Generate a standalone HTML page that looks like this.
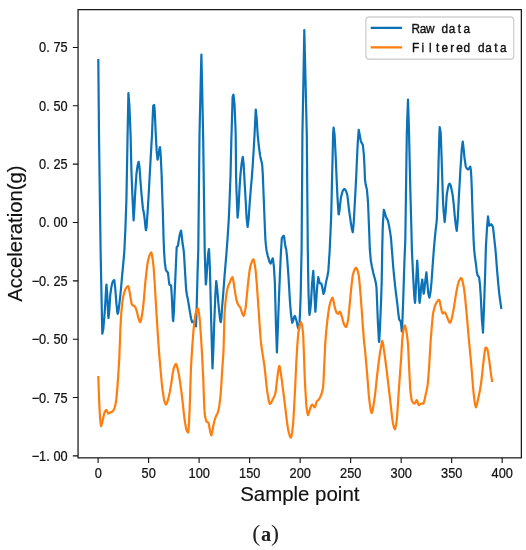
<!DOCTYPE html>
<html lang="en">
<head>
<meta charset="utf-8">
<title>Acceleration - Raw data vs Filtered data</title>
<style>
html,body{margin:0;padding:0;background:#fff;}
body{width:526px;height:550px;overflow:hidden;}
svg{display:block;}
text{fill:#111;}
.hw{font-family:"Liberation Sans",sans-serif;stroke:#111;stroke-width:0.25px;}
.lg{stroke-width:0.4px;}
.lab{font-family:"Liberation Sans",sans-serif;stroke:#111;stroke-width:0.15px;}
.cap{font-family:"Liberation Serif",serif;font-size:19.5px;fill:#222;}
</style>
</head>
<body>
<svg width="526" height="550" viewBox="0 0 526 550">
<rect width="526" height="550" fill="#fff"/>
<path d="M98.3 59.1 L99.0 135.0 L99.1 142.9 L100.1 215.5 L100.6 250.0 L101.1 276.1 L102.1 325.8 L102.3 333.7 L103.2 329.8 L104.2 318.6 L104.8 310.7 L105.2 304.9 L106.2 286.4 L106.5 284.5 L107.2 293.9 L108.2 315.8 L108.5 318.0 L109.2 311.7 L110.2 295.7 L110.4 294.0 L111.2 288.1 L112.2 283.1 L112.5 282.4 L113.2 280.9 L114.2 280.0 L114.3 280.0 L115.3 289.0 L116.3 302.1 L116.3 302.3 L117.3 312.2 L117.7 313.8 L118.3 312.1 L119.3 304.4 L119.8 300.2 L120.3 295.6 L121.3 285.0 L122.3 273.7 L122.4 273.0 L123.3 263.2 L124.4 250.5 L124.4 250.0 L125.4 228.5 L126.4 200.3 L126.4 200.0 L127.4 145.5 L127.5 140.0 L128.4 93.2 L128.4 93.2 L129.4 105.8 L130.4 130.4 L130.6 135.0 L131.3 166.4 L131.4 170.5 L132.4 195.9 L132.8 204.0 L133.5 219.1 L133.6 220.4 L134.5 206.5 L134.9 197.8 L135.5 188.0 L136.5 173.6 L136.6 172.7 L137.5 166.1 L138.5 161.9 L138.7 161.8 L139.5 167.5 L140.5 181.7 L140.8 185.0 L141.5 193.9 L142.6 205.3 L142.9 208.2 L143.6 211.7 L144.1 214.5 L144.6 218.6 L145.6 228.7 L146.0 230.2 L146.6 226.9 L147.6 212.0 L148.1 204.0 L148.6 195.7 L149.6 177.0 L150.2 166.4 L150.6 159.1 L151.6 141.9 L152.0 135.0 L152.7 117.3 L153.2 106.0 L153.7 105.3 L154.2 105.0 L154.7 110.3 L155.7 132.8 L155.8 135.0 L156.7 151.5 L157.5 159.7 L157.7 159.5 L158.7 153.7 L159.7 147.5 L160.0 147.1 L160.7 155.2 L161.7 176.8 L161.7 177.9 L162.7 208.2 L162.8 209.9 L163.6 239.6 L163.8 244.0 L164.0 250.0 L164.8 262.3 L164.8 262.6 L165.8 269.5 L165.9 269.9 L166.8 271.3 L167.8 272.5 L168.0 273.0 L168.8 280.2 L169.4 284.5 L169.8 284.9 L170.8 285.3 L171.1 285.6 L171.8 296.2 L172.8 318.3 L173.2 321.1 L173.9 311.7 L174.7 291.8 L174.9 287.9 L175.9 265.1 L176.0 262.6 L176.7 247.3 L176.9 246.9 L177.9 245.7 L177.9 245.7 L178.9 239.6 L179.5 236.0 L179.9 234.0 L180.9 230.7 L181.1 230.6 L181.9 237.0 L182.6 243.8 L183.0 246.0 L183.6 250.0 L184.0 254.0 L185.0 270.9 L186.0 287.6 L186.4 291.8 L187.0 295.3 L188.0 300.0 L188.0 300.1 L189.0 306.3 L190.0 312.4 L190.1 312.8 L191.0 318.2 L192.1 322.1 L192.2 322.2 L193.1 321.8 L194.1 321.1 L194.3 321.1 L195.1 323.7 L195.9 326.4 L196.1 323.1 L196.8 302.3 L197.1 290.5 L197.6 270.9 L198.1 256.2 L198.3 250.0 L199.1 171.4 L199.5 135.0 L200.1 108.3 L201.1 65.5 L201.4 54.5 L202.2 90.0 L203.1 135.0 L203.2 139.3 L204.2 211.9 L204.7 250.0 L205.2 266.9 L205.8 284.5 L206.2 282.0 L207.2 266.7 L208.2 253.5 L208.9 249.0 L209.2 252.4 L210.0 270.9 L210.2 280.5 L211.0 312.8 L211.2 321.9 L212.1 354.6 L212.2 360.1 L212.5 368.4 L213.3 351.2 L214.2 323.2 L214.3 321.6 L215.3 295.7 L216.2 281.0 L216.3 281.1 L217.3 290.0 L218.3 302.3 L218.3 302.4 L219.3 312.7 L220.3 321.0 L220.8 322.2 L221.3 318.9 L222.3 304.3 L222.5 302.3 L223.4 291.3 L224.4 277.9 L224.6 275.1 L225.4 265.8 L226.4 253.9 L226.7 250.0 L227.4 240.5 L228.4 225.4 L228.8 218.7 L229.4 204.7 L230.4 178.5 L230.5 176.8 L231.4 137.1 L231.5 135.0 L232.5 101.0 L232.6 96.8 L233.4 94.6 L233.5 94.8 L234.5 104.3 L235.5 128.2 L235.7 135.0 L236.1 176.8 L236.5 191.1 L237.5 216.3 L237.6 217.6 L238.5 208.7 L239.5 188.9 L240.3 176.8 L240.5 174.3 L241.6 163.7 L242.6 157.3 L242.8 157.0 L243.6 163.6 L244.6 182.1 L244.9 187.3 L245.6 199.3 L246.6 218.1 L247.6 227.0 L247.6 227.0 L248.6 219.4 L249.6 204.3 L250.1 197.8 L250.6 191.3 L251.7 179.0 L252.7 165.7 L252.9 162.2 L253.7 149.8 L254.5 135.0 L254.7 131.3 L255.7 110.2 L255.8 109.5 L256.7 118.9 L257.7 135.0 L257.7 135.1 L258.7 144.8 L259.7 152.8 L260.2 155.9 L260.7 158.6 L261.8 162.7 L262.3 166.4 L262.8 174.6 L263.7 197.8 L263.8 199.5 L264.8 226.0 L265.4 239.6 L265.8 244.2 L266.5 250.0 L266.8 251.7 L267.8 256.1 L268.5 258.4 L268.8 259.4 L269.8 262.6 L270.6 263.6 L270.8 263.4 L271.9 260.3 L272.7 258.4 L272.9 258.6 L273.9 266.7 L274.8 281.4 L274.9 284.3 L275.9 323.2 L276.9 352.5 L276.9 352.4 L277.9 326.9 L278.4 312.8 L278.9 299.4 L279.9 274.7 L280.1 270.9 L280.9 252.9 L281.1 250.0 L281.8 238.5 L282.0 238.1 L283.0 236.2 L283.8 235.8 L284.0 236.1 L285.0 243.8 L285.3 245.9 L286.0 248.6 L286.3 250.0 L287.0 256.3 L288.0 269.8 L288.4 275.1 L289.0 285.1 L290.0 302.5 L290.5 308.6 L291.1 314.8 L292.1 322.6 L292.2 322.8 L293.1 320.9 L294.1 317.0 L294.7 316.0 L295.1 316.3 L296.1 319.3 L296.8 322.0 L297.1 323.5 L297.8 327.0 L298.1 327.8 L299.1 329.3 L299.2 329.3 L300.1 311.3 L300.7 295.0 L301.1 272.5 L301.6 250.0 L302.2 169.5 L302.4 135.0 L303.2 92.5 L304.2 36.7 L304.3 30.1 L305.2 67.4 L306.2 109.8 L306.8 135.0 L307.2 182.1 L307.8 250.0 L308.2 275.1 L308.5 291.8 L309.2 311.3 L309.5 314.9 L310.2 310.8 L311.0 302.3 L311.2 298.6 L312.2 281.4 L312.3 280.7 L313.3 270.9 L313.3 270.9 L314.3 291.4 L314.3 291.8 L315.3 311.1 L315.4 311.7 L316.3 300.0 L316.8 291.8 L317.3 285.3 L318.3 277.2 L318.3 277.2 L319.3 281.3 L320.0 283.5 L320.3 283.5 L321.4 283.5 L321.4 283.5 L322.4 288.0 L323.4 293.8 L323.5 293.9 L324.4 291.7 L325.4 285.9 L326.2 281.4 L326.4 280.4 L327.4 276.2 L328.3 270.9 L328.4 269.8 L329.4 254.8 L329.6 252.0 L330.4 234.8 L331.1 218.7 L331.5 203.6 L332.1 176.8 L332.5 161.3 L333.1 135.0 L333.5 128.3 L333.6 127.7 L334.5 133.8 L334.6 135.0 L335.5 152.6 L336.1 166.4 L336.5 175.9 L337.3 193.6 L337.5 197.6 L338.5 213.4 L338.8 214.5 L339.5 210.6 L340.6 200.2 L340.9 197.8 L341.6 194.8 L342.6 191.3 L343.0 190.4 L343.6 189.6 L344.4 189.0 L344.6 189.0 L345.6 190.2 L346.6 192.7 L347.2 194.6 L347.6 197.1 L348.6 206.1 L348.6 206.3 L349.6 214.1 L350.3 218.7 L350.6 221.1 L351.7 228.2 L352.7 232.2 L352.8 232.3 L353.7 223.1 L354.5 208.2 L354.7 205.0 L355.7 186.6 L356.2 176.8 L356.7 165.3 L357.6 145.5 L357.7 143.3 L358.7 129.8 L358.7 129.8 L359.7 134.7 L360.8 141.1 L360.8 141.3 L361.8 143.1 L362.8 145.1 L362.9 145.5 L363.8 154.1 L364.5 166.4 L364.8 174.7 L365.0 180.0 L365.8 185.1 L366.8 189.1 L367.0 190.4 L367.8 199.6 L368.1 204.0 L368.8 222.0 L369.1 229.1 L369.8 248.7 L369.9 250.0 L370.8 260.5 L370.9 260.9 L371.9 266.7 L372.9 271.1 L373.3 273.0 L373.9 275.4 L374.9 278.7 L375.9 283.3 L376.5 287.7 L376.9 297.1 L377.5 312.8 L377.9 322.2 L378.9 340.6 L379.2 342.0 L379.9 329.4 L380.6 312.8 L381.0 303.3 L381.7 281.4 L382.0 264.4 L382.2 250.0 L382.7 229.1 L383.0 222.2 L383.8 209.9 L384.0 210.0 L385.0 213.2 L385.9 216.6 L386.0 216.9 L387.0 218.7 L388.0 220.8 L388.0 220.9 L389.0 225.7 L389.6 229.1 L390.1 231.8 L391.1 239.2 L391.1 239.6 L391.9 250.0 L392.1 252.2 L393.1 265.3 L393.2 266.7 L394.1 276.2 L395.1 285.9 L395.3 287.7 L396.1 294.4 L397.1 302.2 L397.4 304.4 L398.1 311.5 L399.1 319.3 L399.2 319.5 L400.1 320.7 L400.7 321.6 L401.2 325.7 L401.8 331.5 L402.2 326.5 L403.2 300.5 L403.2 300.0 L404.2 268.5 L404.4 262.0 L405.2 242.9 L405.3 240.0 L406.2 176.3 L406.8 135.0 L407.2 120.6 L408.0 99.5 L408.2 105.4 L409.1 135.0 L409.2 141.1 L410.2 184.8 L410.6 200.0 L411.3 225.5 L411.9 250.0 L412.3 258.9 L413.3 279.0 L413.5 282.8 L414.3 296.5 L415.0 302.9 L415.3 300.1 L416.3 278.4 L416.3 278.2 L417.2 260.5 L417.3 261.0 L418.3 279.5 L418.5 282.8 L419.3 300.5 L419.6 302.9 L420.4 296.6 L421.1 287.2 L421.4 284.9 L422.2 279.5 L422.4 280.0 L423.4 292.0 L423.7 293.7 L424.4 289.7 L425.1 282.8 L425.4 280.0 L426.4 272.3 L426.4 272.3 L427.4 283.3 L428.1 291.5 L428.4 293.8 L429.4 297.7 L429.4 297.7 L430.5 292.1 L431.0 287.2 L431.5 282.0 L432.5 267.8 L432.5 267.5 L433.5 254.0 L433.8 250.0 L434.5 241.9 L435.3 233.4 L435.5 231.4 L436.5 222.8 L436.9 218.1 L437.5 200.3 L438.2 178.7 L438.5 165.2 L439.3 135.0 L439.6 129.0 L439.7 127.1 L440.6 132.3 L440.8 135.0 L441.6 157.4 L441.9 167.8 L442.6 188.8 L443.0 200.6 L443.6 211.1 L444.6 221.9 L444.7 222.0 L445.6 213.0 L446.6 196.6 L446.9 194.0 L447.6 189.6 L448.6 185.0 L449.5 183.5 L449.6 183.5 L450.7 185.6 L451.7 190.0 L452.7 195.5 L452.8 196.2 L453.7 204.1 L454.7 215.4 L455.0 218.1 L455.7 224.6 L456.7 230.8 L456.8 230.8 L457.7 220.0 L458.7 200.6 L458.7 199.9 L459.8 180.8 L460.5 167.8 L460.8 163.9 L461.8 148.4 L462.7 141.6 L462.8 141.7 L463.8 150.5 L464.4 156.9 L464.8 160.1 L465.8 166.5 L465.9 166.7 L466.8 168.5 L467.8 169.4 L468.1 169.5 L468.8 168.8 L469.9 167.0 L470.3 166.7 L470.9 170.6 L471.4 178.7 L471.9 191.9 L472.5 211.5 L472.9 221.8 L473.6 240.0 L473.9 245.4 L474.2 250.0 L474.9 256.6 L475.8 263.1 L475.9 264.0 L476.9 272.3 L477.5 275.1 L477.9 275.8 L478.9 277.0 L479.1 277.3 L480.0 284.7 L480.6 293.7 L481.0 300.6 L481.9 320.0 L482.0 321.2 L483.0 332.6 L483.0 332.6 L484.0 307.5 L484.1 304.7 L485.0 277.8 L485.2 271.9 L485.8 250.0 L486.0 245.1 L486.7 233.4 L487.0 227.8 L488.0 216.3 L488.0 216.3 L489.1 224.8 L489.3 225.7 L490.1 225.1 L491.1 224.2 L491.1 224.2 L492.1 225.2 L492.8 226.8 L493.1 228.1 L494.1 237.2 L494.4 240.0 L495.1 246.2 L495.5 250.0 L496.1 257.3 L497.1 270.6 L497.6 276.2 L498.1 282.1 L499.1 292.4 L499.8 298.1 L500.2 300.9 L501.2 307.7 L501.4 309.0" fill="none" stroke="#0b72b8" stroke-width="2.2" stroke-linejoin="round" stroke-linecap="butt"/>
<path d="M98.3 376.0 L99.1 399.7 L99.5 407.8 L100.1 418.3 L101.0 426.2 L101.1 426.1 L102.1 422.7 L103.1 418.2 L103.2 418.0 L104.2 413.8 L104.8 411.9 L105.2 411.1 L106.2 409.9 L106.2 409.9 L107.2 411.6 L108.2 413.6 L108.3 413.6 L109.2 413.2 L110.2 412.5 L110.4 412.4 L111.2 412.1 L112.2 411.7 L112.5 411.5 L113.2 410.7 L114.3 408.7 L114.6 407.8 L115.3 405.4 L116.3 399.5 L116.3 399.4 L117.3 388.3 L117.7 382.7 L118.3 374.5 L119.2 360.0 L119.3 357.8 L120.3 331.2 L120.9 319.0 L121.3 313.2 L122.3 302.6 L123.0 298.1 L123.3 296.3 L124.4 292.1 L125.4 289.3 L125.7 288.7 L126.4 287.6 L127.4 286.4 L128.2 286.0 L128.4 286.2 L129.4 290.7 L130.3 296.0 L130.4 296.7 L131.4 302.9 L132.0 304.8 L132.4 305.2 L133.5 305.6 L134.5 306.1 L134.5 306.1 L135.5 307.7 L136.5 310.4 L136.6 310.7 L137.5 314.2 L138.5 318.4 L138.7 319.0 L139.5 321.2 L140.3 322.2 L140.5 322.0 L141.5 318.1 L142.6 311.1 L142.9 308.6 L143.6 302.5 L144.6 290.5 L145.4 281.4 L145.6 279.8 L146.6 270.6 L147.6 263.0 L148.1 260.5 L148.6 258.5 L149.6 255.1 L150.6 252.9 L151.2 252.5 L151.6 253.3 L152.7 259.3 L153.3 264.6 L153.7 268.2 L154.7 283.3 L155.7 300.4 L155.8 302.3 L156.7 316.5 L157.7 332.7 L158.5 344.5 L158.7 347.3 L159.7 360.0 L160.6 370.1 L160.7 371.5 L161.7 382.4 L162.7 391.0 L162.8 391.4 L163.8 398.4 L164.2 400.4 L164.8 402.4 L165.8 404.6 L165.9 404.6 L166.8 403.5 L167.8 400.4 L168.4 398.3 L168.8 396.8 L169.8 391.9 L170.8 386.2 L171.1 384.7 L171.8 379.9 L172.8 372.7 L173.8 368.0 L173.9 367.8 L174.9 365.1 L175.9 363.8 L175.9 363.8 L176.9 365.7 L177.9 370.0 L178.4 372.2 L178.9 374.7 L179.9 380.9 L180.9 388.2 L181.6 393.1 L181.9 395.9 L183.0 405.3 L184.0 414.8 L184.7 420.3 L185.0 422.1 L186.0 428.0 L186.8 430.8 L187.0 431.2 L188.0 432.4 L188.3 432.5 L189.0 423.6 L189.7 407.8 L190.0 398.8 L191.0 366.8 L191.1 365.5 L192.1 348.6 L193.1 335.3 L193.2 333.7 L194.1 324.2 L195.1 315.9 L195.3 314.9 L196.1 311.9 L197.1 309.1 L198.0 308.2 L198.1 308.3 L199.1 313.6 L200.1 323.2 L200.1 323.5 L201.1 338.8 L201.6 347.0 L202.2 357.1 L203.1 376.4 L203.2 377.7 L204.2 405.1 L204.7 414.0 L205.2 417.1 L206.2 421.1 L206.4 421.4 L207.2 422.0 L208.2 422.5 L208.5 422.8 L209.2 426.1 L210.0 430.8 L210.2 431.8 L211.2 435.3 L211.4 435.4 L212.2 432.0 L213.1 426.6 L213.3 425.9 L214.3 421.5 L215.2 418.2 L215.3 418.0 L216.3 415.6 L217.3 413.7 L218.3 410.9 L218.3 410.9 L219.3 405.7 L220.3 397.9 L220.4 397.3 L221.3 385.1 L222.3 368.3 L222.5 365.9 L223.4 352.8 L223.6 348.0 L224.4 318.3 L224.6 312.8 L225.4 302.8 L226.4 294.2 L227.4 288.8 L227.7 287.7 L228.4 285.5 L229.4 283.2 L229.8 282.4 L230.4 280.8 L231.4 278.3 L232.4 277.2 L232.5 277.2 L233.5 281.5 L234.4 287.7 L234.5 288.2 L235.5 294.7 L236.5 300.2 L237.5 303.3 L238.2 304.8 L238.5 305.3 L239.5 306.4 L240.3 307.5 L240.5 308.0 L241.6 311.5 L242.0 312.8 L242.6 314.2 L243.6 315.9 L243.6 315.9 L244.6 313.4 L245.5 308.6 L245.6 308.1 L246.6 298.4 L247.6 287.7 L247.6 287.6 L248.6 278.4 L249.6 270.3 L250.3 266.7 L250.6 265.4 L251.7 262.1 L252.7 259.9 L253.3 259.4 L253.7 259.8 L254.7 264.2 L255.4 268.8 L255.7 271.0 L256.7 282.7 L257.7 297.0 L258.1 302.3 L258.7 310.9 L259.7 326.1 L260.7 339.7 L261.2 344.5 L261.8 349.0 L262.8 355.5 L263.8 361.5 L264.4 365.9 L264.8 369.0 L265.8 378.6 L266.8 388.1 L267.5 393.1 L267.8 394.9 L268.8 400.7 L269.8 403.9 L270.0 404.0 L270.8 403.3 L271.9 401.3 L272.7 399.4 L272.9 399.1 L273.9 397.2 L274.9 394.8 L275.4 393.1 L275.9 390.2 L276.9 381.1 L277.5 376.4 L277.9 373.5 L278.9 367.0 L279.4 366.0 L279.9 367.1 L280.9 373.6 L282.0 381.7 L282.1 382.7 L283.0 389.1 L284.0 397.2 L285.0 405.4 L285.3 407.8 L286.0 413.5 L287.0 422.0 L288.0 429.0 L288.4 430.8 L289.0 433.3 L290.0 436.6 L290.9 437.7 L291.1 437.6 L292.1 432.9 L293.0 425.0 L293.1 424.3 L294.1 408.3 L295.0 390.0 L295.1 388.3 L296.1 366.7 L297.0 350.0 L297.1 348.4 L298.1 335.2 L299.0 328.0 L299.1 327.4 L300.1 323.7 L301.1 322.2 L301.1 322.2 L302.2 325.9 L303.2 334.7 L303.2 335.0 L304.2 361.4 L304.7 376.4 L305.2 386.7 L306.2 403.7 L306.4 405.7 L307.2 412.2 L308.0 415.1 L308.2 415.0 L309.2 411.9 L310.1 408.8 L310.2 408.5 L311.2 405.8 L312.2 404.6 L312.3 404.6 L313.3 405.7 L314.3 407.1 L314.7 407.3 L315.3 406.4 L316.3 402.8 L316.8 401.5 L317.3 400.9 L318.3 400.0 L318.9 399.4 L319.3 398.8 L320.3 396.8 L321.0 395.2 L321.4 394.3 L322.4 390.9 L323.1 386.8 L323.4 383.6 L324.2 365.9 L324.4 362.0 L325.2 344.5 L325.4 341.6 L326.4 329.3 L327.3 321.1 L327.4 320.1 L328.4 312.1 L329.4 305.9 L329.8 304.4 L330.4 302.1 L331.5 299.0 L332.5 297.7 L332.5 297.7 L333.5 300.8 L334.5 306.1 L334.6 306.5 L335.5 309.8 L336.5 312.5 L336.7 312.8 L337.5 313.5 L338.2 313.8 L338.5 313.6 L339.5 311.8 L339.8 311.7 L340.6 312.7 L341.6 315.8 L341.9 316.9 L342.6 319.3 L343.6 323.2 L344.0 324.3 L344.6 325.4 L345.6 326.8 L346.1 327.0 L346.6 326.3 L347.6 322.2 L348.2 319.0 L348.6 315.9 L349.6 305.2 L350.3 298.1 L350.6 294.6 L351.7 283.6 L352.7 275.7 L352.8 275.1 L353.7 272.0 L354.7 269.3 L355.7 267.9 L356.0 267.8 L356.7 268.4 L357.7 271.1 L358.7 275.1 L358.7 275.2 L359.7 284.5 L360.8 297.5 L360.8 298.1 L361.8 311.0 L362.8 325.6 L363.8 338.7 L363.9 340.0 L364.8 348.2 L365.2 352.0 L365.8 358.4 L366.8 370.0 L367.0 372.2 L367.8 382.5 L368.8 395.2 L369.5 401.5 L369.8 404.1 L370.9 410.9 L371.6 413.0 L371.9 412.8 L372.9 409.1 L373.9 402.8 L374.4 399.4 L374.9 395.9 L375.9 387.0 L376.9 377.2 L377.5 372.2 L377.9 368.7 L378.9 360.7 L379.9 353.3 L380.6 349.2 L381.0 347.0 L382.0 341.5 L382.3 341.0 L383.0 343.5 L383.8 349.2 L384.0 350.4 L385.0 357.4 L386.0 365.1 L386.9 372.2 L387.0 373.2 L388.0 381.6 L389.0 390.4 L390.1 399.0 L390.1 399.4 L391.1 408.1 L392.1 417.3 L393.1 424.0 L393.2 424.5 L394.1 427.9 L394.9 429.3 L395.1 429.1 L396.1 424.5 L396.7 420.3 L397.1 416.2 L398.1 401.3 L398.8 391.0 L399.1 386.3 L400.1 372.6 L400.9 361.7 L401.2 357.3 L402.2 340.3 L402.2 340.0 L403.2 331.7 L404.2 326.1 L404.7 325.3 L405.2 326.0 L406.2 330.3 L406.8 333.7 L407.2 336.6 L408.0 344.5 L408.2 348.1 L409.1 366.9 L409.2 369.8 L410.2 388.7 L410.2 389.2 L411.3 398.0 L411.9 400.7 L412.3 401.4 L413.3 402.8 L414.3 403.6 L414.6 403.6 L415.3 402.7 L416.3 400.4 L416.7 400.1 L417.3 401.1 L418.3 404.3 L418.9 405.1 L419.3 404.9 L420.4 404.0 L421.1 403.6 L421.4 403.6 L422.4 403.6 L423.3 403.6 L423.4 403.6 L424.4 400.7 L425.4 395.7 L425.5 395.3 L426.4 391.5 L427.4 386.2 L427.7 384.4 L428.4 376.7 L429.2 366.0 L429.4 362.0 L430.5 343.6 L430.5 343.0 L431.5 330.3 L431.5 330.0 L432.5 318.5 L433.1 313.4 L433.5 311.4 L434.5 307.4 L435.5 304.6 L436.0 303.6 L436.5 302.6 L437.5 301.0 L438.5 299.9 L439.0 299.8 L439.6 300.9 L440.6 305.8 L440.8 306.8 L441.6 310.5 L442.5 313.4 L442.6 313.4 L443.6 312.9 L444.6 312.3 L444.7 312.3 L445.6 313.4 L446.6 315.9 L447.4 317.8 L447.6 318.3 L448.6 320.8 L449.6 322.6 L450.0 322.8 L450.7 322.0 L451.7 318.5 L452.7 313.9 L452.8 313.4 L453.7 308.8 L454.7 302.3 L455.7 295.9 L456.1 293.7 L456.7 290.4 L457.7 285.2 L458.7 281.7 L458.7 281.6 L459.8 279.4 L460.8 278.1 L461.1 278.0 L461.8 278.8 L462.8 282.3 L463.8 287.2 L463.8 287.2 L464.8 294.5 L465.8 304.9 L466.6 313.4 L466.8 315.7 L467.8 327.1 L468.8 338.9 L469.2 343.0 L469.9 350.1 L470.9 360.9 L471.4 366.9 L471.9 372.6 L472.9 385.6 L473.6 393.1 L473.9 395.6 L474.9 403.9 L475.8 407.3 L475.9 407.3 L476.9 404.6 L477.9 400.0 L478.0 399.7 L478.9 395.4 L480.0 390.0 L481.0 383.8 L481.2 382.2 L482.0 375.7 L483.0 366.0 L483.4 362.5 L484.0 357.3 L485.0 349.3 L485.6 347.6 L486.0 347.7 L487.0 348.2 L487.1 348.3 L488.0 352.2 L488.9 358.1 L489.1 359.1 L490.1 367.0 L490.6 371.2 L491.1 374.6 L492.2 382.2" fill="none" stroke="#ff7d0c" stroke-width="2.2" stroke-linejoin="round" stroke-linecap="butt"/>
<rect x="78.05" y="9.65" width="443.3" height="448.2" fill="none" stroke="#0f0f0f" stroke-width="1.2"/>
<path d="M98.10 457.9 v5.2 M148.61 457.9 v5.2 M199.12 457.9 v5.2 M249.63 457.9 v5.2 M300.14 457.9 v5.2 M350.65 457.9 v5.2 M401.16 457.9 v5.2 M451.67 457.9 v5.2 M502.18 457.9 v5.2 M78.05 455.90 h-5.2 M78.05 397.55 h-5.2 M78.05 339.20 h-5.2 M78.05 280.85 h-5.2 M78.05 222.50 h-5.2 M78.05 164.15 h-5.2 M78.05 105.80 h-5.2 M78.05 47.45 h-5.2" stroke="#0f0f0f" stroke-width="1.1" fill="none"/>
<text class="hw" font-size="14.2" text-anchor="middle" transform="translate(94.62 478.30) scale(0.9 1)" x="3.97" y="0">0</text>
<text class="hw" font-size="14.2" text-anchor="middle" transform="translate(141.56 478.30) scale(0.9 1)" x="3.97 11.92" y="0">50</text>
<text class="hw" font-size="14.2" text-anchor="middle" transform="translate(188.50 478.30) scale(0.9 1)" x="3.97 11.92 19.86" y="0">100</text>
<text class="hw" font-size="14.2" text-anchor="middle" transform="translate(239.00 478.30) scale(0.9 1)" x="3.97 11.92 19.86" y="0">150</text>
<text class="hw" font-size="14.2" text-anchor="middle" transform="translate(289.51 478.30) scale(0.9 1)" x="3.97 11.92 19.86" y="0">200</text>
<text class="hw" font-size="14.2" text-anchor="middle" transform="translate(340.02 478.30) scale(0.9 1)" x="3.97 11.92 19.86" y="0">250</text>
<text class="hw" font-size="14.2" text-anchor="middle" transform="translate(390.53 478.30) scale(0.9 1)" x="3.97 11.92 19.86" y="0">300</text>
<text class="hw" font-size="14.2" text-anchor="middle" transform="translate(441.04 478.30) scale(0.9 1)" x="3.97 11.92 19.86" y="0">350</text>
<text class="hw" font-size="14.2" text-anchor="middle" transform="translate(491.55 478.30) scale(0.9 1)" x="3.97 11.92 19.86" y="0">400</text>
<text class="hw" font-size="14.2" text-anchor="middle" transform="translate(31.95 460.85) scale(0.9 1)" x="3.97 11.92 17.75 27.81 35.75" y="0">−1.00</text>
<text class="hw" font-size="14.2" text-anchor="middle" transform="translate(31.95 402.50) scale(0.9 1)" x="3.97 11.92 17.75 27.81 35.75" y="0">−0.75</text>
<text class="hw" font-size="14.2" text-anchor="middle" transform="translate(31.95 344.15) scale(0.9 1)" x="3.97 11.92 17.75 27.81 35.75" y="0">−0.50</text>
<text class="hw" font-size="14.2" text-anchor="middle" transform="translate(31.95 285.80) scale(0.9 1)" x="3.97 11.92 17.75 27.81 35.75" y="0">−0.25</text>
<text class="hw" font-size="14.2" text-anchor="middle" transform="translate(39.10 227.45) scale(0.9 1)" x="3.97 9.81 19.86 27.81" y="0">0.00</text>
<text class="hw" font-size="14.2" text-anchor="middle" transform="translate(39.10 169.10) scale(0.9 1)" x="3.97 9.81 19.86 27.81" y="0">0.25</text>
<text class="hw" font-size="14.2" text-anchor="middle" transform="translate(39.10 110.75) scale(0.9 1)" x="3.97 9.81 19.86 27.81" y="0">0.50</text>
<text class="hw" font-size="14.2" text-anchor="middle" transform="translate(39.10 52.40) scale(0.9 1)" x="3.97 9.81 19.86 27.81" y="0">0.75</text>
<text class="lab" font-size="20.45" text-anchor="middle" x="299.8" y="501.2">Sample point</text>
<text class="lab" font-size="20.3" text-anchor="middle" transform="translate(21.6 233.6) rotate(-90)">Acceleration(g)</text>
<rect x="365.9" y="17" width="147.8" height="42.2" rx="3.2" ry="3.2" fill="#fff" fill-opacity="0.8" stroke="#d2d2d2" stroke-width="1.4"/>
<path d="M370.7 27.9 H402.1" stroke="#0b72b8" stroke-width="2.2"/>
<path d="M370.7 47.3 H402.1" stroke="#ff7d0c" stroke-width="2.2"/>
<text class="hw lg" font-size="13.4" text-anchor="middle" transform="translate(412.00 32.80) scale(0.88 1)" x="4.15 12.44 20.74 29.03 37.33 45.62 53.92 62.22" y="0">Raw data</text>
<text class="hw lg" font-size="13.4" text-anchor="middle" transform="translate(412.00 51.80) scale(0.88 1)" x="4.15 12.44 20.74 29.03 37.33 45.62 53.92 62.22 70.51 78.81 87.10 95.40 103.69" y="0">Filtered data</text>
<text class="cap" text-anchor="middle" x="256.3 266 275.0" y="541.0"><tspan font-size="24">(</tspan><tspan font-weight="bold" font-size="20.3">a</tspan><tspan font-size="24">)</tspan></text>
</svg>
</body>
</html>
